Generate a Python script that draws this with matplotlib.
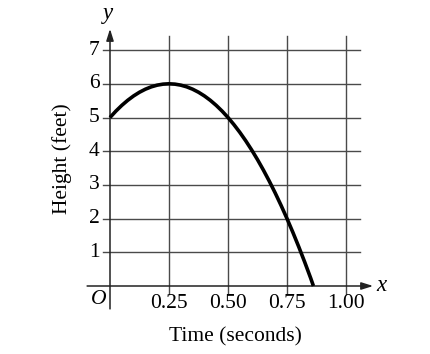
import matplotlib
matplotlib.use("Agg")
import matplotlib.pyplot as plt

# Data
time_s = [0.0, 0.025, 0.05, 0.075, 0.10, 0.125, 0.15, 0.175, 0.20, 0.225,
          0.25, 0.275, 0.30, 0.325, 0.35, 0.375, 0.40, 0.425, 0.45, 0.475,
          0.50, 0.525, 0.55, 0.575, 0.60, 0.625, 0.65, 0.675, 0.70, 0.725,
          0.75, 0.775, 0.80, 0.825, 0.85, 0.862]
height_ft = [5.0, 5.19, 5.36, 5.51, 5.64, 5.75, 5.84, 5.91, 5.96, 5.99,
             6.0, 5.99, 5.96, 5.91, 5.84, 5.75, 5.64, 5.51, 5.36, 5.19,
             5.0, 4.79, 4.56, 4.31, 4.04, 3.75, 3.44, 3.11, 2.76, 2.39,
             2.0, 1.59, 1.16, 0.71, 0.24, 0.0]
x_ticks = [0.25, 0.50, 0.75, 1.00]
x_tick_labels = ["0.25", "0.50", "0.75", "1.00"]
y_ticks = [1, 2, 3, 4, 5, 6, 7]
y_tick_labels = ["1", "2", "3", "4", "5", "6", "7"]

W, H = 430, 354
fig = plt.figure(figsize=(W / 100, H / 100), dpi=100)

# pixel geometry
x0_px, px_per_x = 110, 236.0
y0_px, px_per_y = 286, 33.7
xlim = (-0.12, 1.12)
ylim = (-0.8, 7.8)
left_px = x0_px + xlim[0] * px_per_x
right_px = x0_px + xlim[1] * px_per_x
bottom_px = y0_px - ylim[0] * px_per_y
top_px = y0_px - ylim[1] * px_per_y
ax = fig.add_axes([left_px / W, (H - bottom_px) / H,
                   (right_px - left_px) / W, (bottom_px - top_px) / H])
ax.set_xlim(*xlim)
ax.set_ylim(*ylim)
ax.axis("off")

serif = "Liberation Serif"
fs = 15.5
grid_c = "#4a4a4a"

# grid lines
for xv in x_ticks:
    ax.plot([xv, xv], [-0.24, 7.42], color=grid_c, lw=1.0, zorder=1)
for yv in y_ticks:
    ax.plot([-0.03, 1.06], [yv, yv], color=grid_c, lw=1.0, zorder=1)

# axes with arrows
ax.annotate("", xy=(1.115, 0), xytext=(-0.097, 0),
            arrowprops=dict(arrowstyle="-|>,head_length=0.7,head_width=0.22",
                            color="#222222", lw=1.1, shrinkA=0, shrinkB=0),
            zorder=2)
ax.annotate("", xy=(0, 7.63), xytext=(0, -0.68),
            arrowprops=dict(arrowstyle="-|>,head_length=0.7,head_width=0.22",
                            color="#222222", lw=1.1, shrinkA=0, shrinkB=0),
            zorder=2)

# curve
ax.plot(time_s, height_ft, color="black", lw=2.6, solid_capstyle="butt", zorder=3)

# tick labels
for xv, lab in zip(x_ticks, x_tick_labels):
    ax.text(xv, -0.52, lab, ha="center", va="center", fontsize=fs, family=serif)
for yv, lab in zip(y_ticks, y_tick_labels):
    ax.text(-0.045, yv, lab, ha="right", va="center", fontsize=fs, family=serif)
ax.text(-0.048, -0.4, "O", ha="center", va="center", fontsize=fs,
        family=serif, style="italic")

# axis letters
ax.text(-0.01, 8.08, "y", ha="center", va="center", fontsize=fs + 1,
        family=serif, style="italic", clip_on=False)
ax.text(1.13, 0.02, "x", ha="left", va="center", fontsize=fs + 1,
        family=serif, style="italic", clip_on=False)

# axis titles
fig.text(235 / W, 1 - 337 / H, "Time (seconds)", ha="center", va="center",
         fontsize=fs, family=serif)
fig.text(62 / W, 1 - 159 / H, "Height (feet)", ha="center", va="center",
         fontsize=fs, family=serif, rotation=90)

fig.savefig("out.png", dpi=100, facecolor="white")
